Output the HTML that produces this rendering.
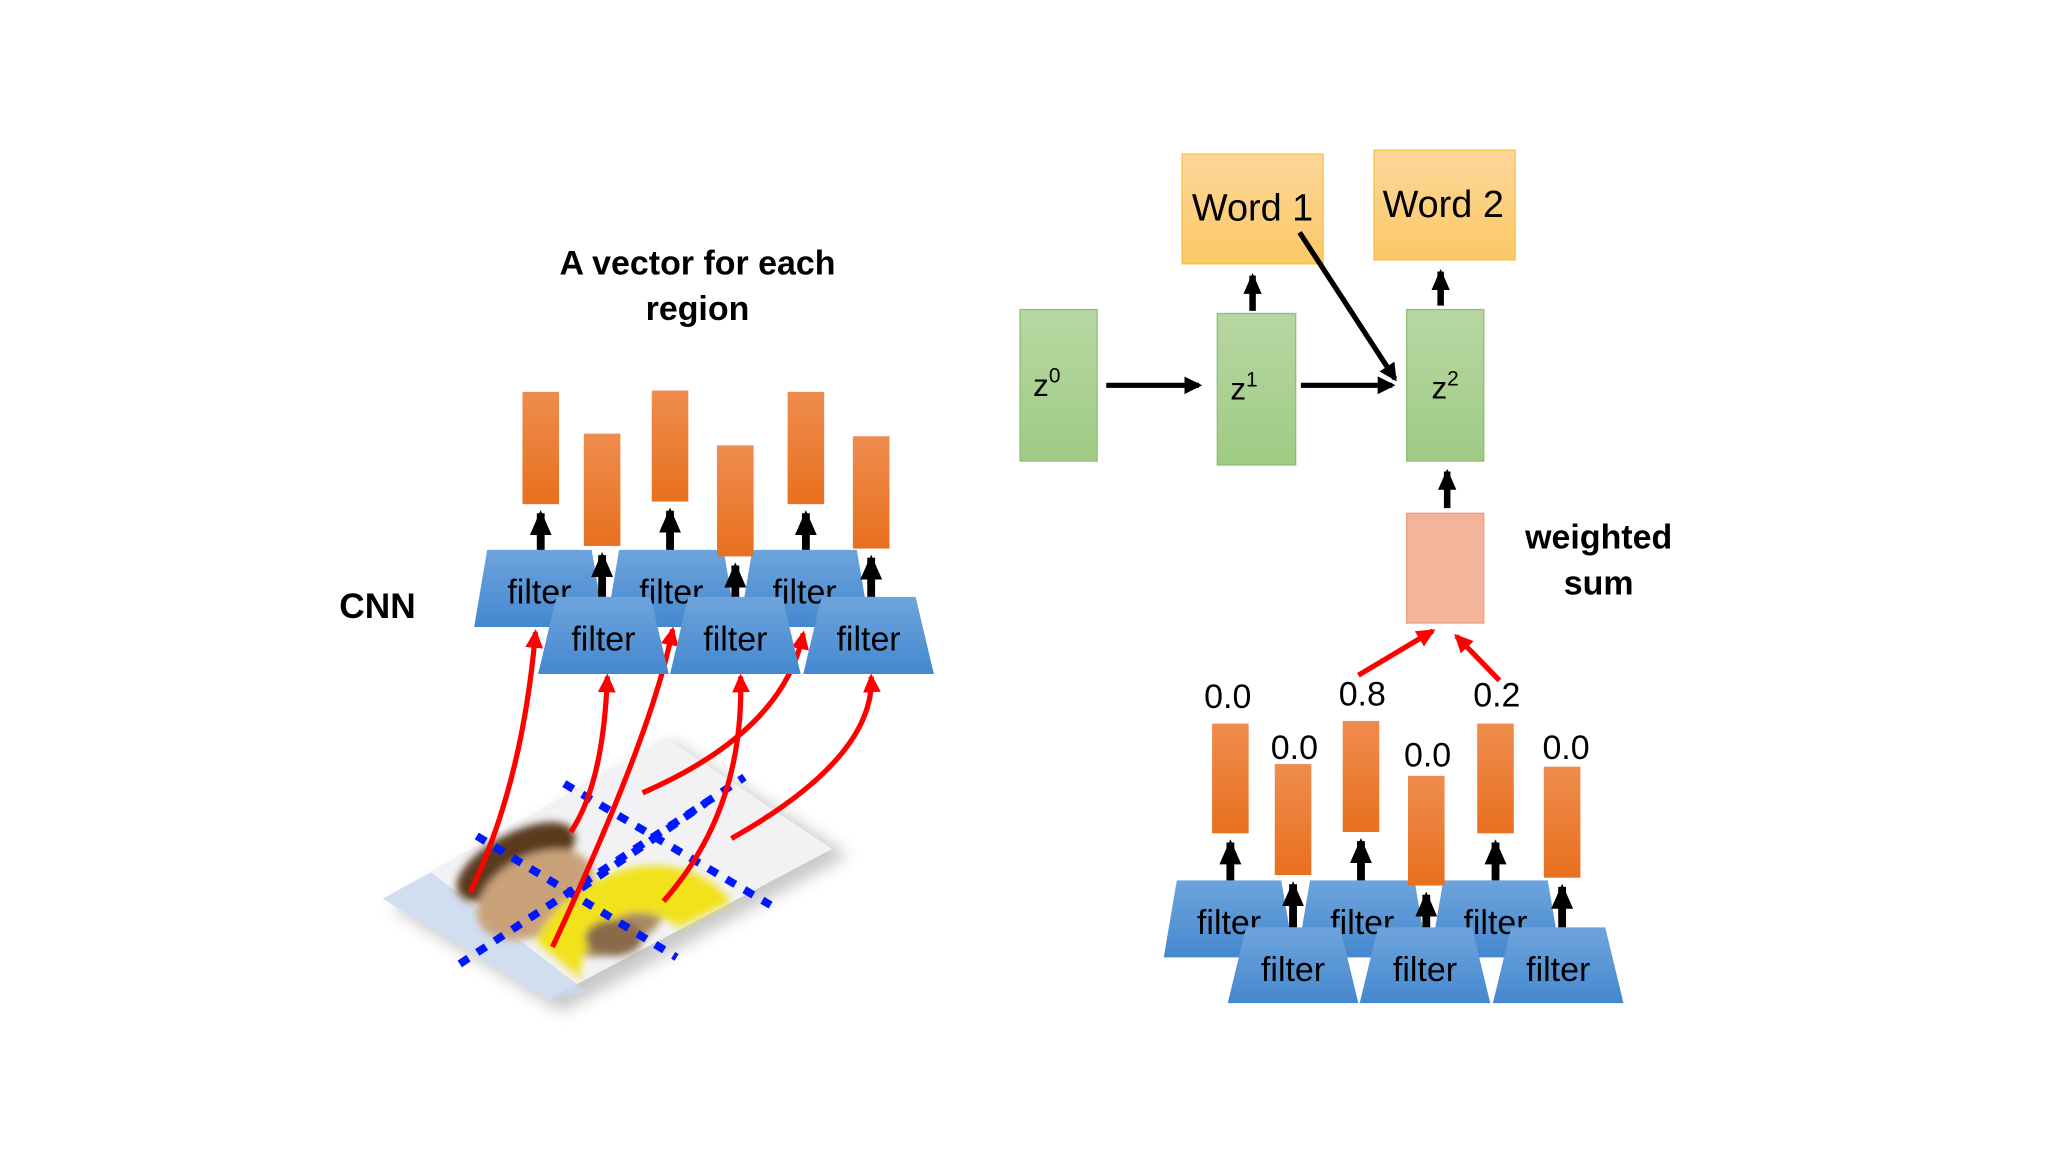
<!DOCTYPE html>
<html><head><meta charset="utf-8"><style>
html,body{margin:0;padding:0;background:#fff;}
svg{display:block;}
text{font-family:"Liberation Sans",sans-serif;}
</style></head><body>
<svg width="2048" height="1152" viewBox="0 0 1568 882" xmlns="http://www.w3.org/2000/svg">
<defs>
<linearGradient id="og" x1="0" y1="0" x2="0" y2="1"><stop offset="0" stop-color="#ef8c4e"/><stop offset="1" stop-color="#e8701e"/></linearGradient>
<linearGradient id="bg" x1="0" y1="0" x2="0" y2="1"><stop offset="0" stop-color="#6ea4dc"/><stop offset="1" stop-color="#4588cf"/></linearGradient>
<linearGradient id="gg" x1="0" y1="0" x2="0" y2="1"><stop offset="0" stop-color="#b7d7a3"/><stop offset="1" stop-color="#9fcb84"/></linearGradient>
<linearGradient id="yg" x1="0" y1="0" x2="0" y2="1"><stop offset="0" stop-color="#fdd79a"/><stop offset="1" stop-color="#fbc865"/></linearGradient>
<marker id="ra" markerWidth="6" markerHeight="6" refX="3" refY="2" orient="auto" markerUnits="strokeWidth"><path d="M0,0.3 L3.6,2 L0,3.7z" fill="#f00"/></marker>
<marker id="ka" markerWidth="6" markerHeight="6" refX="2.8" refY="2" orient="auto" markerUnits="strokeWidth"><path d="M0,0.6 L3.2,2 L0,3.4z" fill="#000"/></marker>
<marker id="kb" markerWidth="6" markerHeight="6" refX="2.8" refY="2" orient="auto" markerUnits="strokeWidth"><path d="M0,0.3 L3.4,2 L0,3.7z" fill="#000"/></marker>
<filter id="sh" x="-20%" y="-20%" width="140%" height="140%"><feGaussianBlur stdDeviation="6"/></filter>
<filter id="bl" x="-20%" y="-20%" width="140%" height="140%"><feGaussianBlur stdDeviation="3"/></filter>
</defs>

<text x="534" y="210" font-size="26" font-weight="bold" text-anchor="middle">A vector for each</text>
<text x="534" y="245" font-size="26" font-weight="bold" text-anchor="middle">region</text>
<text x="289" y="473" font-size="27" font-weight="bold" text-anchor="middle">CNN</text>

<polygon points="300,695 515,568 650,655 430,775" fill="#888" opacity="0.45" filter="url(#sh)"/>
<polygon points="293,688 510,565 637,650 420,765" fill="#f2f2f4"/>
<polygon points="293,688 330,668 450,760 420,765" fill="#c8d8ee" opacity="0.8"/>
<g filter="url(#bl)">
<ellipse cx="395" cy="660" rx="50" ry="22" fill="#5a3a1e" transform="rotate(-28 395 660)"/>
<ellipse cx="410" cy="685" rx="48" ry="30" fill="#c9a27a" transform="rotate(-28 410 685)"/>
<ellipse cx="470" cy="700" rx="45" ry="28" fill="#a98a66" transform="rotate(-28 470 700)"/>
<path d="M410,720 Q430,680 480,665 Q530,655 560,690 L520,710 Q490,690 470,705 Q440,730 445,750 Z" fill="#f2e21a"/>
<ellipse cx="470" cy="718" rx="22" ry="14" fill="#8a6a4a"/>
</g>
<g stroke="#0018ff" stroke-width="6" stroke-dasharray="8,8" fill="none">
<line x1="432" y1="600" x2="590" y2="693"/>
<line x1="365" y1="640" x2="518" y2="733"/>
<line x1="352" y1="738" x2="570" y2="595"/>
<line x1="445" y1="680" x2="540" y2="615"/>
</g>
<g stroke="#f00" stroke-width="4" fill="none" marker-end="url(#ra)">
<path d="M360,683 Q400,600 410,484"/>
<path d="M437,637 Q462,600 465,518"/>
<path d="M423,725 Q500,560 515,482"/>
<path d="M492,607 Q600,560 615,485"/>
<path d="M508,690 Q570,620 567,518"/>
<path d="M560,642 Q670,580 667,518"/>
</g>

<g fill="url(#bg)">
<polygon points="373,421 453,421 463,480 363,480"/>
<polygon points="474,421 554,421 564,480 464,480"/>
<polygon points="576,421 656,421 666,480 566,480"/>
</g>
<g font-size="26" text-anchor="middle">
<text x="413" y="462">filter</text><text x="514" y="462">filter</text><text x="616" y="462">filter</text>
</g>
<g fill="url(#og)">
<rect x="400" y="300" width="28" height="86"/>
<rect x="447" y="332" width="28" height="86"/>
<rect x="499" y="299" width="28" height="85"/>
<rect x="549" y="341" width="28" height="85"/>
<rect x="603" y="300" width="28" height="86"/>
<rect x="653" y="334" width="28" height="86"/>
</g>
<g stroke="#000" stroke-width="6" marker-end="url(#ka)">
<line x1="414" y1="421" x2="414" y2="393"/>
<line x1="461" y1="457" x2="461" y2="425"/>
<line x1="513" y1="421" x2="513" y2="391"/>
<line x1="563" y1="457" x2="563" y2="433"/>
<line x1="617" y1="421" x2="617" y2="393"/>
<line x1="667" y1="457" x2="667" y2="427"/>
</g>
<g fill="url(#bg)">
<polygon points="426,457 498,457 512,516 412,516"/>
<polygon points="527,457 599,457 613,516 513,516"/>
<polygon points="629,457 701,457 715,516 615,516"/>
</g>
<g font-size="26" text-anchor="middle">
<text x="462" y="498">filter</text><text x="563" y="498">filter</text><text x="665" y="498">filter</text>
</g>

<rect x="905" y="118" width="108" height="84" fill="url(#yg)" stroke="#f5c14a" stroke-width="1"/>
<rect x="1052" y="115" width="108" height="84" fill="url(#yg)" stroke="#f5c14a" stroke-width="1"/>
<text x="959" y="169" font-size="29" text-anchor="middle">Word 1</text>
<text x="1105" y="166" font-size="29" text-anchor="middle">Word 2</text>
<rect x="781" y="237" width="59" height="116" fill="url(#gg)" stroke="#8fbf70"/>
<rect x="932" y="240" width="60" height="116" fill="url(#gg)" stroke="#8fbf70"/>
<rect x="1077" y="237" width="59" height="116" fill="url(#gg)" stroke="#8fbf70"/>
<text x="791" y="303" font-size="24">z<tspan font-size="16" dy="-10">0</tspan></text>
<text x="942" y="306" font-size="24">z<tspan font-size="16" dy="-10">1</tspan></text>
<text x="1096" y="305" font-size="24">z<tspan font-size="16" dy="-10">2</tspan></text>
<g stroke="#000" stroke-width="4" marker-end="url(#kb)">
<line x1="847" y1="295" x2="918" y2="295"/>
<line x1="996" y1="295" x2="1066" y2="295"/>
<line x1="995" y1="178" x2="1068" y2="290"/>
</g>
<g stroke="#000" stroke-width="5" marker-end="url(#ka)">
<line x1="959" y1="238" x2="959" y2="211"/>
<line x1="1103" y1="234" x2="1103" y2="208"/>
<line x1="1108" y1="389" x2="1108" y2="361"/>
</g>
<rect x="1077" y="393" width="59" height="84" fill="#f4b49a" stroke="#eba080"/>
<text x="1224" y="420" font-size="26" font-weight="bold" text-anchor="middle">weighted</text>
<text x="1224" y="455" font-size="26" font-weight="bold" text-anchor="middle">sum</text>
<g stroke="#f00" stroke-width="4" marker-end="url(#ra)">
<line x1="1040" y1="517" x2="1097" y2="483"/>
<line x1="1148" y1="521" x2="1115" y2="487"/>
</g>

<g fill="url(#bg)">
<polygon points="901,674 981,674 991,733 891,733"/>
<polygon points="1003,674 1083,674 1093,733 993,733"/>
<polygon points="1105,674 1185,674 1195,733 1095,733"/>
</g>
<g font-size="26" text-anchor="middle">
<text x="941" y="715">filter</text><text x="1043" y="715">filter</text><text x="1145" y="715">filter</text>
</g>
<g fill="url(#og)">
<rect x="928" y="554" width="28" height="84"/>
<rect x="976" y="585" width="28" height="85"/>
<rect x="1028" y="552" width="28" height="85"/>
<rect x="1078" y="594" width="28" height="84"/>
<rect x="1131" y="554" width="28" height="84"/>
<rect x="1182" y="587" width="28" height="85"/>
</g>
<g font-size="26" text-anchor="middle">
<text x="940" y="542">0.0</text><text x="991" y="581">0.0</text><text x="1043" y="540">0.8</text>
<text x="1093" y="587">0.0</text><text x="1146" y="541">0.2</text><text x="1199" y="581">0.0</text>
</g>
<g stroke="#000" stroke-width="6" marker-end="url(#ka)">
<line x1="942" y1="674" x2="942" y2="645"/>
<line x1="990" y1="710" x2="990" y2="677"/>
<line x1="1042" y1="674" x2="1042" y2="644"/>
<line x1="1092" y1="710" x2="1092" y2="685"/>
<line x1="1145" y1="674" x2="1145" y2="645"/>
<line x1="1196" y1="710" x2="1196" y2="679"/>
</g>
<g fill="url(#bg)">
<polygon points="954,710 1026,710 1040,768 940,768"/>
<polygon points="1055,710 1127,710 1141,768 1041,768"/>
<polygon points="1157,710 1229,710 1243,768 1143,768"/>
</g>
<g font-size="26" text-anchor="middle">
<text x="990" y="751">filter</text><text x="1091" y="751">filter</text><text x="1193" y="751">filter</text>
</g>
</svg>
</body></html>
